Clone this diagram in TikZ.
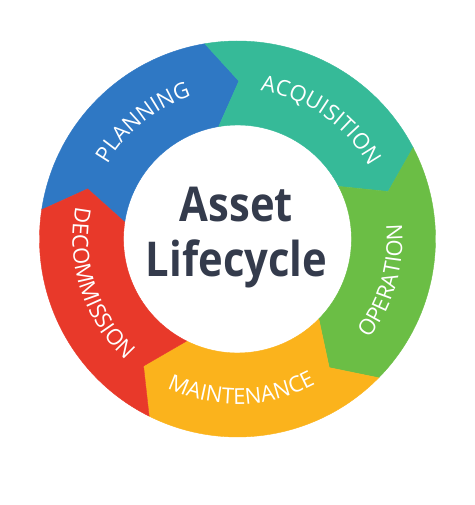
\documentclass[tikz,border=0pt]{standalone}
\usepackage{fontspec}
\setmainfont{Open Sans}
\newfontfamily\titlefont[FakeStretch=0.87]{Open Sans}
\usepackage{tikz}
\usetikzlibrary{decorations.text}

\definecolor{planblue}{RGB}{47,120,196}
\definecolor{acqteal}{RGB}{54,186,152}
\definecolor{opgreen}{RGB}{107,190,69}
\definecolor{maintorange}{RGB}{251,179,28}
\definecolor{decomred}{RGB}{232,57,42}
\definecolor{titlenavy}{RGB}{52,59,76}

\begin{document}
\begin{tikzpicture}
[   x=1pt, y=1pt,
    seg/.style={line width=0.4pt},
    steplabel/.style={decorate, decoration={text along path, text align=center, text color=white}},
    title/.style={font=\titlefont\bfseries\fontsize{48}{48}\selectfont, text=titlenavy, inner sep=0pt, anchor=base}, ]

    \useasboundingbox (-237.5,-266) rectangle (236.5,239);

    \def\Ro{198}
    \def\Ri{114}
    \def\Rm{158}

\foreach \k/\col in {0/planblue,1/acqteal,2/opgreen,3/maintorange,4/decomred}
{
 \pgfmathsetmacro\a{171.5-72*\k}
 \pgfmathsetmacro\b{\a-72}
 \pgfmathsetmacro\ta{\a-10}
 \pgfmathsetmacro\tb{\b-10}

    \filldraw[seg, fill=\col, draw=\col] (\a:\Ro) arc[start angle=\a, end angle=\b, radius=\Ro]
        -- (\tb:\Rm) -- (\b:\Ri) arc[start angle=\b, end angle=\a, radius=\Ri]
        -- (\ta:\Rm) -- cycle;
}

    \path[steplabel, decoration={text={|\fontsize{22}{22}\selectfont|PLANNING}}] (170:150) arc[start angle=170, end angle=88, radius=150];
    \path[steplabel, decoration={text={|\fontsize{22}{22}\selectfont|ACQUISITION}}] (97:150) arc[start angle=97, end angle=13, radius=150];
    \path[steplabel, decoration={text={|\fontsize{22}{22}\selectfont|OPERATION}}] (-58:165) arc[start angle=-58, end angle=26, radius=165];
    \path[steplabel, decoration={text={|\fontsize{22}{22}\selectfont|MAINTENANCE}}] (-130:165) arc[start angle=-130, end angle=-47, radius=165];
    \path[steplabel, decoration={text={|\fontsize{22}{22}\selectfont|DECOMMISSION}}] (155:165) arc[start angle=155, end angle=241, radius=165];

    \node[title] (asset) at (-1,17) {Asset};
    \node[title] (life) at (-1,-38) {Lifecycle};

\end{tikzpicture}
\end{document}
